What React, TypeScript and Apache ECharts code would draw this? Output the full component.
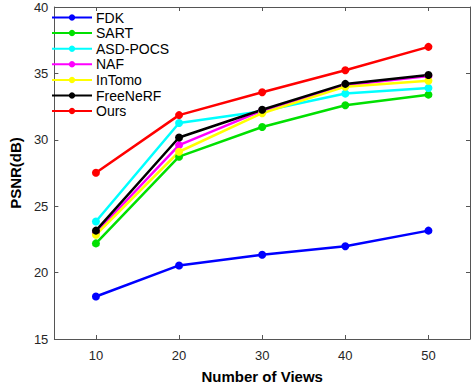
import React, { useEffect, useRef } from "react";
import * as echarts from "echarts";

const views = [10, 20, 30, 40, 50];
const seriesNames = ["FDK", "SART", "ASD-POCS", "NAF", "InTomo", "FreeNeRF", "Ours"];
const seriesColors = ["#0000ff", "#00e000", "#00ffff", "#ff00ff", "#ffff00", "#000000", "#ff0000"];
const fdk = [18.2, 20.54, 21.35, 21.98, 23.16];
const sart = [22.2, 28.73, 30.96, 32.6, 33.4];
const asdPocs = [23.85, 31.27, 32.15, 33.48, 33.9];
const naf = [23.0, 29.6, 32.2, 34.1, 34.8];
const inTomo = [22.85, 29.1, 32.0, 34.0, 34.45];
const freeNeRF = [23.16, 30.17, 32.26, 34.21, 34.88];
const ours = [27.52, 31.86, 33.58, 35.24, 37.0];
const seriesValues = [fdk, sart, asdPocs, naf, inTomo, freeNeRF, ours];
const yTicks = [15, 20, 25, 30, 35, 40];

export default function App() {
  const ref = useRef<HTMLDivElement>(null);
  useEffect(() => {
    if (!ref.current) return;
    const chart = echarts.init(ref.current, null, { renderer: "svg" });
    const axisColor = "#555";
    const labelStyle = { color: "#262626", fontSize: 13, fontFamily: "Liberation Sans, Arial, sans-serif" };
    const common = {
      axisLine: { show: true, lineStyle: { color: axisColor, width: 1 } },
      splitLine: { show: false },
    };
    chart.setOption({
      animation: false,
      backgroundColor: "#fff",
      grid: { left: 41, right: 4, top: 7, bottom: 42, containLabel: false },
      legend: {
        orient: "vertical",
        left: 51,
        top: 10,
        padding: 0,
        itemWidth: 40,
        itemHeight: 8,
        itemGap: 0.6,
        textStyle: { ...labelStyle, fontSize: 14, lineHeight: 15, color: "#000", padding: [0, 0, 0, -1] },
        data: seriesNames,
      },
      xAxis: [
        {
          type: "value",
          min: 5,
          max: 55,
          ...common,
          name: "Number of Views",
          nameLocation: "middle",
          nameGap: 30,
          nameTextStyle: { ...labelStyle, fontSize: 15, fontWeight: "bold", color: "#000" },
          axisTick: { show: true, inside: true, length: 4, customValues: views, lineStyle: { color: axisColor } },
          axisLabel: { ...labelStyle, margin: 10, customValues: views },
        },
        {
          type: "value",
          min: 5,
          max: 55,
          position: "top",
          ...common,
          axisTick: { show: true, inside: true, length: 4, customValues: views, lineStyle: { color: axisColor } },
          axisLabel: { show: false },
        },
      ],
      yAxis: [
        {
          type: "value",
          min: 15,
          max: 40,
          interval: 5,
          ...common,
          name: "PSNR(dB)",
          nameLocation: "middle",
          nameGap: 25,
          nameTextStyle: { ...labelStyle, fontSize: 15, fontWeight: "bold", color: "#000" },
          axisTick: { show: true, inside: true, length: 4, customValues: yTicks, lineStyle: { color: axisColor } },
          axisLabel: { ...labelStyle, margin: 6 },
        },
        {
          type: "value",
          min: 15,
          max: 40,
          interval: 5,
          position: "right",
          ...common,
          axisTick: { show: true, inside: true, length: 4, lineStyle: { color: axisColor } },
          axisLabel: { show: false },
        },
      ],
      series: seriesNames.map((name, i) => ({
        name,
        type: "line",
        data: views.map((v, j) => [v, seriesValues[i][j]]),
        color: seriesColors[i],
        symbol: "circle",
        symbolSize: 8,
        lineStyle: { width: 2.5, color: seriesColors[i] },
        itemStyle: { color: seriesColors[i] },
      })),
    });
    return () => chart.dispose();
  }, []);
  return <div ref={ref} style={{ width: 474, height: 389, position: "absolute", left: 0, top: 0 }} />;
}
